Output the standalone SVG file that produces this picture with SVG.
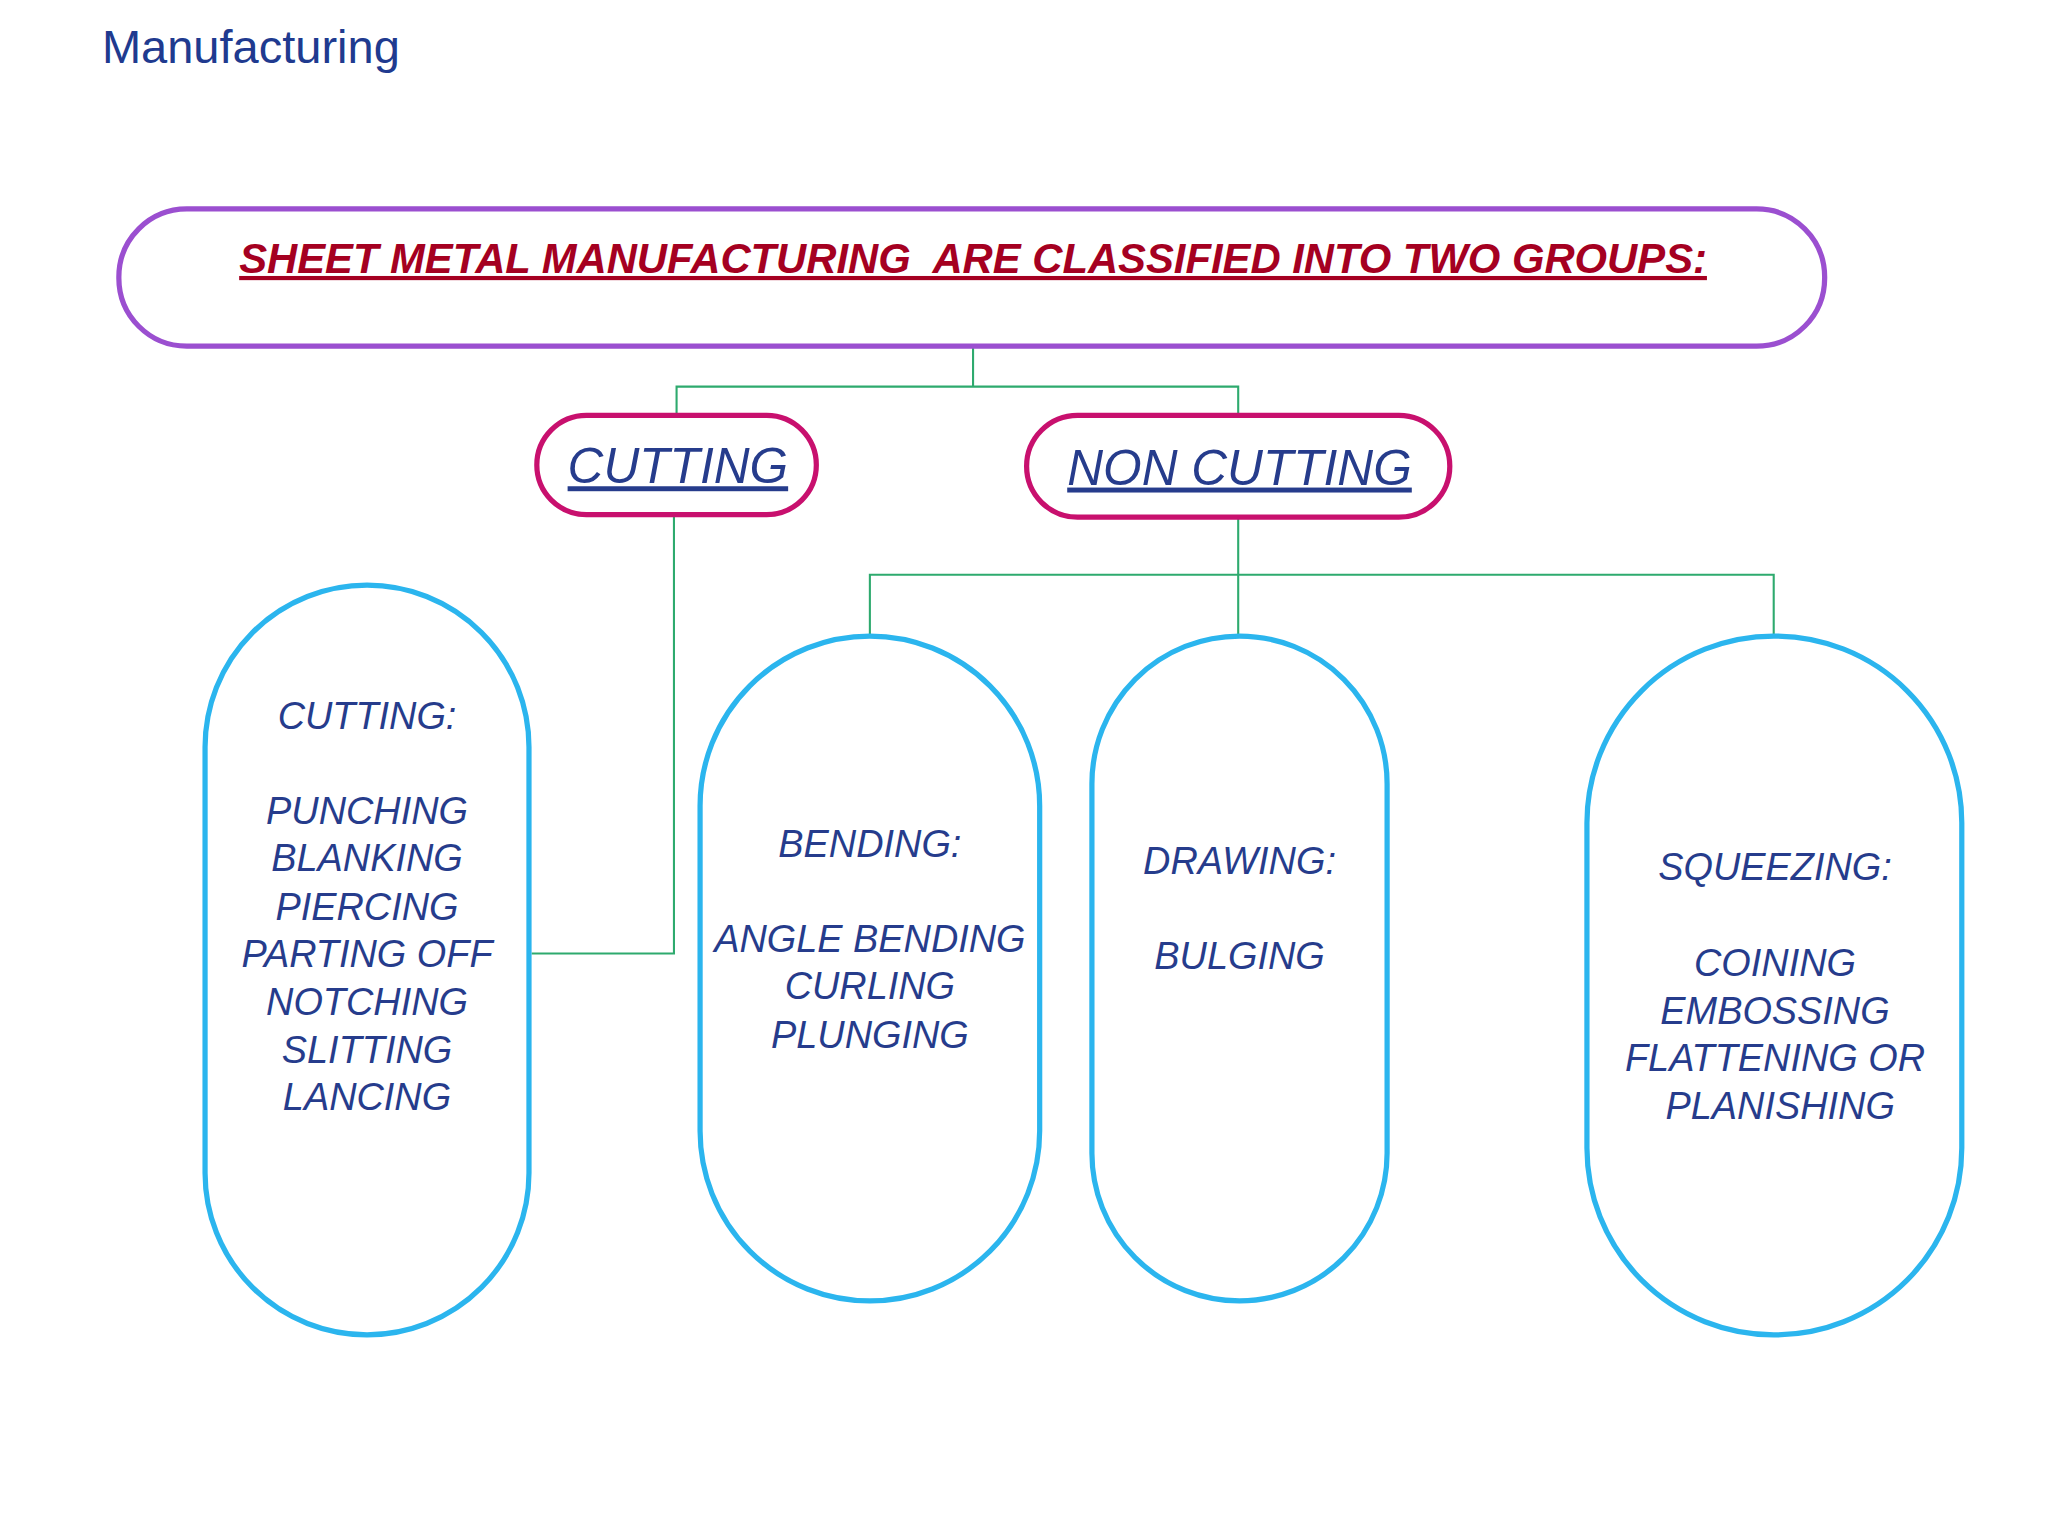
<svg xmlns="http://www.w3.org/2000/svg" width="2048" height="1536" viewBox="0 0 2048 1536">
<style>
.t{font-family:"Liberation Sans",Arial,sans-serif;font-style:italic;fill:#263c8c;text-anchor:middle}
.b{fill:none;stroke:#2bb5ee;stroke-width:4}
.m{fill:none;stroke:#c8106e;stroke-width:4}
.c{fill:none;stroke:#2eaa6e;stroke-width:1.6}
</style>
<rect width="2048" height="1536" fill="#fff"/>
<g transform="scale(1.30612)">
<text x="78" y="48" font-family="Liberation Sans,Arial,sans-serif" font-size="36" fill="#203a8f">Manufacturing</text>
<g id="connectors">
<path class="c" d="M745 265V296M518 318V296H948V318"/>
<path class="c" d="M516 394V730H407"/>
<path class="c" d="M948 396V440M666 487V440H1358V487M948 440V487"/>
</g>
<g id="root">
<rect x="91" y="160" width="1306" height="105" rx="52" fill="#fff" stroke="#9b4fd0" stroke-width="4"/>
<text x="745" y="209" text-anchor="middle" font-family="Liberation Sans,Arial,sans-serif" font-size="32" font-weight="bold" font-style="italic" fill="#a50021" text-decoration="underline" xml:space="preserve">SHEET METAL MANUFACTURING  ARE CLASSIFIED INTO TWO GROUPS:</text>
</g>
<g id="cutting">
<rect class="m" x="411" y="318" width="214" height="76" rx="38"/>
<text class="t" x="519" y="370" font-size="38" text-decoration="underline">CUTTING</text>
</g>
<g id="noncutting">
<rect class="m" x="786" y="318" width="324" height="78" rx="39"/>
<text class="t" x="949" y="371" font-size="38" text-decoration="underline">NON CUTTING</text>
</g>
<g id="cutlist" font-size="29">
<rect class="b" x="157" y="448" width="248" height="574" rx="124"/>
<text class="t" font-size="29"><tspan x="281" y="558">CUTTING:</tspan><tspan x="281" y="631">PUNCHING</tspan><tspan x="281" y="667">BLANKING</tspan><tspan x="281" y="704">PIERCING</tspan><tspan x="281" y="740">PARTING OFF</tspan><tspan x="281" y="777">NOTCHING</tspan><tspan x="281" y="814">SLITTING</tspan><tspan x="281" y="850">LANCING</tspan></text>
</g>
<g id="bending">
<rect class="b" x="536" y="487" width="260" height="509" rx="130"/>
<text class="t" font-size="29"><tspan x="666" y="656">BENDING:</tspan><tspan x="666" y="729">ANGLE BENDING</tspan><tspan x="666" y="765">CURLING</tspan><tspan x="666" y="802">PLUNGING</tspan></text>
</g>
<g id="drawing">
<rect class="b" x="836" y="487" width="226" height="509" rx="113"/>
<text class="t" font-size="29"><tspan x="949" y="669">DRAWING:</tspan><tspan x="949" y="742">BULGING</tspan></text>
</g>
<g id="squeezing">
<rect class="b" x="1215" y="487" width="287" height="535" rx="143"/>
<text class="t" font-size="29"><tspan x="1359" y="674">SQUEEZING:</tspan><tspan x="1359" y="747">COINING</tspan><tspan x="1359" y="784">EMBOSSING</tspan><tspan x="1359" y="820">FLATTENING OR</tspan><tspan x="1363" y="857">PLANISHING</tspan></text>
</g>
</g>
</svg>
